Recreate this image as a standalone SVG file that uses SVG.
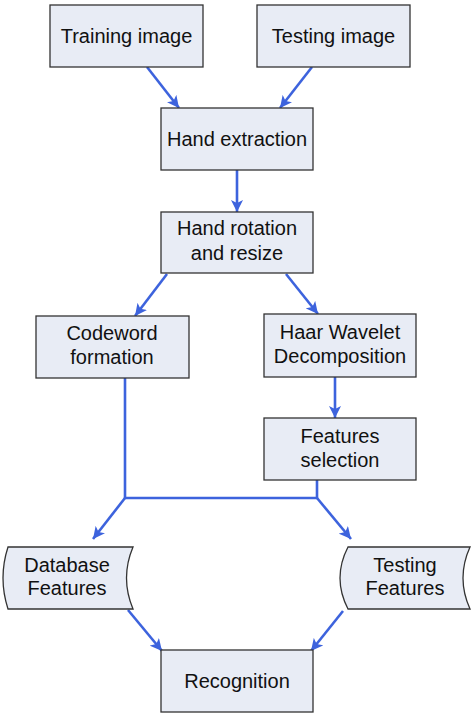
<svg xmlns="http://www.w3.org/2000/svg" width="474" height="718" viewBox="0 0 474 718">
<style>
.box{fill:#e8ecf5;stroke:#333;stroke-width:1.3}
.t{font-family:"Liberation Sans",Arial,sans-serif;font-size:20px;fill:#111;text-anchor:middle}
.c{fill:none;stroke:#3d63dd;stroke-width:2.6}
</style>
<defs>
<marker id="ah" markerUnits="userSpaceOnUse" markerWidth="14" markerHeight="12" refX="12" refY="6" orient="auto">
<path d="M0,0 L12,6 L0,12 L3,6 z" fill="#3d63dd"/>
</marker>
</defs>
<rect width="474" height="718" fill="#fff"/>
<g id="connectors">
<line class="c" x1="147" y1="67" x2="179" y2="108" marker-end="url(#ah)"/>
<line class="c" x1="312" y1="67" x2="280" y2="108" marker-end="url(#ah)"/>
<line class="c" x1="237" y1="170" x2="237" y2="212" marker-end="url(#ah)"/>
<line class="c" x1="167" y1="274" x2="135" y2="316" marker-end="url(#ah)"/>
<line class="c" x1="286" y1="274" x2="318" y2="314" marker-end="url(#ah)"/>
<line class="c" x1="335" y1="377" x2="335" y2="418" marker-end="url(#ah)"/>
<polyline class="c" points="125,378 125,498 317,498 317,480"/>
<line class="c" x1="125" y1="498" x2="93" y2="539" marker-end="url(#ah)"/>
<line class="c" x1="317" y1="498" x2="351" y2="539" marker-end="url(#ah)"/>
<line class="c" x1="128" y1="610" x2="162" y2="651" marker-end="url(#ah)"/>
<line class="c" x1="343" y1="611" x2="311" y2="651" marker-end="url(#ah)"/>
</g>
<g id="training">
<rect class="box" x="50" y="5" width="153" height="62"/>
<text class="t" x="126.5" y="43">Training image</text>
</g>
<g id="testing">
<rect class="box" x="257" y="5" width="153" height="62"/>
<text class="t" x="333.5" y="43">Testing image</text>
</g>
<g id="extraction">
<rect class="box" x="161" y="108" width="152" height="62"/>
<text class="t" x="237" y="146">Hand extraction</text>
</g>
<g id="rotation">
<rect class="box" x="161" y="212" width="152" height="61"/>
<text class="t" x="237" y="235">Hand rotation</text>
<text class="t" x="237" y="260">and resize</text>
</g>
<g id="codeword">
<rect class="box" x="36" y="316" width="153" height="62"/>
<text class="t" x="112" y="340">Codeword</text>
<text class="t" x="112" y="364">formation</text>
</g>
<g id="haar">
<rect class="box" x="264" y="314" width="152" height="63"/>
<text class="t" x="340" y="339">Haar Wavelet</text>
<text class="t" x="340" y="363">Decomposition</text>
</g>
<g id="selection">
<rect class="box" x="264" y="418" width="152" height="62"/>
<text class="t" x="340" y="443">Features</text>
<text class="t" x="340" y="467">selection</text>
</g>
<g id="database">
<path class="box" d="M8,547 L133,547 Q120,578 133,609 L8,609 Q-2,578 8,547 Z"/>
<text class="t" x="67" y="572">Database</text>
<text class="t" x="67" y="595">Features</text>
</g>
<g id="testfeat">
<path class="box" d="M348,547 L470,547 Q456,578 470,609 L348,609 Q332,578 348,547 Z"/>
<text class="t" x="405" y="572">Testing</text>
<text class="t" x="405" y="595">Features</text>
</g>
<g id="recognition">
<rect class="box" x="161" y="650" width="152" height="62"/>
<text class="t" x="237" y="688">Recognition</text>
</g>
</svg>
